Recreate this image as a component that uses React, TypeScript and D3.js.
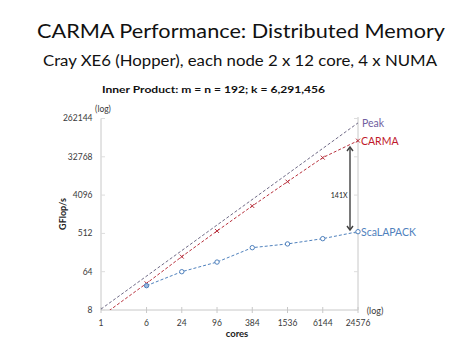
import React from "react";
import * as d3 from "d3";

const coreTicks = [1, 6, 24, 96, 384, 1536, 6144, 24576];
const gflopTicks = [8, 64, 512, 4096, 32768, 262144];
const peakCores = [1, 24576];
const peakValues = [8.4, 206438];
const carmaCores = [1, 6, 24, 96, 384, 1536, 6144, 24576];
const carmaValues = [5.6, 34, 145, 584, 2270, 8494, 31270, 78700];
const scalapackCores = [6, 24, 96, 384, 1536, 6144, 24576];
const scalapackValues = [30, 64, 108, 236, 289, 385, 562];

const FONT = "Lato, 'Open Sans', sans-serif";

export default function App() {
  const W = 474;
  const H = 355;
  const x = d3.scaleLog().domain([1, 24576]).range([101, 358]);
  const y = d3.scaleLog().domain([8, 262144]).range([310, 118.5]);
  const line = d3
    .line<[number, number]>()
    .x((d) => x(d[0]))
    .y((d) => y(d[1]));
  const peakPts = peakCores.map((c, i) => [c, peakValues[i]] as [number, number]);
  const carmaPts = carmaCores.map((c, i) => [c, carmaValues[i]] as [number, number]);
  const scalPts = scalapackCores.map((c, i) => [c, scalapackValues[i]] as [number, number]);
  const axisColor = "#c8c8c8";
  const tickText = "#3a3a3a";
  const peakColor = "#6f6a86";
  const carmaColor = "#b8303c";
  const scalColor = "#4f81bd";
  const arrowX = 350;
  const arrowTop = 147;
  const arrowBot = 230;
  return (
    <svg
      width={W}
      height={H}
      style={{ position: "absolute", left: 0, top: 0, background: "#fff" }}
    >
      <defs>
        <clipPath id="plot">
          <rect x={101} y={100} width={270} height={210} />
        </clipPath>
      </defs>
      <text
        x={37}
        y={37.5}
        fontFamily={FONT}
        fontSize={19.5}
        fill="#111"
        textLength={408}
        lengthAdjust="spacingAndGlyphs"
      >
        CARMA Performance: Distributed Memory
      </text>
      <text
        x={43}
        y={66}
        fontFamily={FONT}
        fontSize={15.5}
        fill="#111"
        textLength={394}
        lengthAdjust="spacingAndGlyphs"
      >
        Cray XE6 (Hopper), each node 2 x 12 core, 4 x NUMA
      </text>
      <text
        x={102}
        y={93.3}
        fontFamily={FONT}
        fontSize={10.3}
        fontWeight="bold"
        fill="#111"
        textLength={223}
        lengthAdjust="spacingAndGlyphs"
      >
        Inner Product: m = n = 192; k = 6,291,456
      </text>

      {/* axes */}
      <line x1={101} x2={101} y1={118.5} y2={310} stroke={axisColor} strokeWidth={1} />
      <line x1={358} x2={358} y1={117} y2={310} stroke={axisColor} strokeWidth={1} />
      <line x1={101} x2={358} y1={310} y2={310} stroke={axisColor} strokeWidth={1} />
      {gflopTicks.map((t) => (
        <g key={"yt" + t}>
          <line x1={101} x2={105} y1={y(t)} y2={y(t)} stroke="#dddddd" />
          <line x1={354} x2={358} y1={y(t)} y2={y(t)} stroke="#dddddd" />
          <text
            x={92.5}
            y={y(t)}
            dy="0.35em"
            textAnchor="end"
            fontFamily={FONT}
            fontSize={8.5}
            fill={tickText}
          >
            {t}
          </text>
        </g>
      ))}
      {coreTicks.map((t) => (
        <g key={"xt" + t}>
          <line x1={x(t)} x2={x(t)} y1={307} y2={313} stroke={axisColor} />
          <text
            x={x(t)}
            y={326}
            textAnchor="middle"
            fontFamily={FONT}
            fontSize={8.5}
            fill={tickText}
          >
            {t}
          </text>
        </g>
      ))}
      <text x={103} y={112} textAnchor="middle" fontFamily={FONT} fontSize={8.5} fill={tickText}>
        (log)
      </text>
      <text x={375} y={314} textAnchor="middle" fontFamily={FONT} fontSize={9} fill={tickText}>
        (log)
      </text>
      <text
        x={237}
        y={337}
        textAnchor="middle"
        fontFamily={FONT}
        fontSize={9.5}
        fontWeight="bold"
        fill="#222"
      >
        cores
      </text>
      <text
        transform="translate(66,214) rotate(-90)"
        textAnchor="middle"
        fontFamily={FONT}
        fontSize={9}
        fontWeight="bold"
        fill="#222"
      >
        GFlop/s
      </text>

      {/* series */}
      <g clipPath="url(#plot)">
        <path d={line(peakPts) || ""} fill="none" stroke={peakColor} strokeWidth={1} strokeDasharray="3,2" />
        <path d={line(carmaPts) || ""} fill="none" stroke={carmaColor} strokeWidth={1} strokeDasharray="3,2" />
        <path d={line(scalPts) || ""} fill="none" stroke={scalColor} strokeWidth={1} strokeDasharray="3,2" />
        {carmaPts.slice(1).map((p, i) => (
          <g key={"cm" + i} stroke={carmaColor} strokeWidth={1}>
            <line x1={x(p[0]) - 2} x2={x(p[0]) + 2} y1={y(p[1]) - 2} y2={y(p[1]) + 2} />
            <line x1={x(p[0]) - 2} x2={x(p[0]) + 2} y1={y(p[1]) + 2} y2={y(p[1]) - 2} />
          </g>
        ))}
        {scalPts.map((p, i) => (
          <circle
            key={"sm" + i}
            cx={x(p[0])}
            cy={y(p[1])}
            r={2.2}
            fill={i === 0 ? "#9bb9de" : "#ffffff"}
            stroke={scalColor}
            strokeWidth={1}
          />
        ))}
      </g>

      {/* series labels */}
      <text x={362} y={y(peakValues[1]) + 4} fontFamily={FONT} fontSize={10.5} fill="#7060a0">
        Peak
      </text>
      <text x={361} y={y(carmaValues[carmaValues.length - 1]) + 4} fontFamily={FONT} fontSize={10.5} fill="#c0182a">
        CARMA
      </text>
      <text
        x={361}
        y={y(scalapackValues[scalapackValues.length - 1]) + 4}
        fontFamily={FONT}
        fontSize={10.5}
        fill="#4f81bd"
      >
        ScaLAPACK
      </text>

      {/* ratio arrow */}
      <g stroke="#404040" strokeWidth={1.4} fill="none">
        <line x1={arrowX} x2={arrowX} y1={arrowTop} y2={arrowBot} />
        <polyline points={`${arrowX - 3},${arrowTop + 4} ${arrowX},${arrowTop} ${arrowX + 3},${arrowTop + 4}`} />
        <polyline points={`${arrowX - 3},${arrowBot - 4} ${arrowX},${arrowBot} ${arrowX + 3},${arrowBot - 4}`} />
      </g>
      <text x={347.5} y={197.5} textAnchor="end" fontFamily={FONT} fontSize={7} fill="#222">
        141X
      </text>
    </svg>
  );
}
